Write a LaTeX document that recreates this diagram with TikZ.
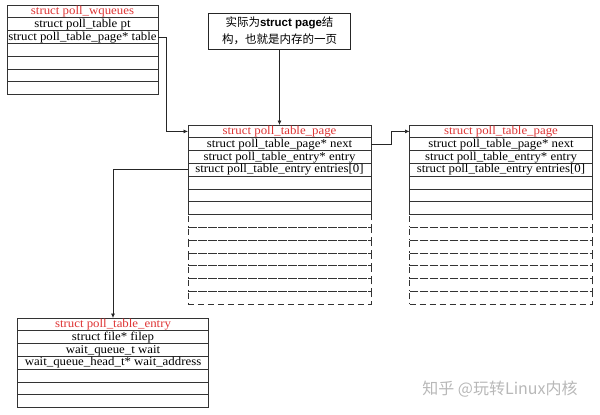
\documentclass[tikz,border=0pt]{standalone}
\usepackage{fontspec}
\setmainfont{Liberation Serif}
\newfontfamily\fieldfont[FakeStretch=1.07]{Liberation Serif}
\newfontfamily\cjkfont{Noto Sans CJK SC}
\newfontfamily\latinsans{Liberation Sans}
\usetikzlibrary{positioning,arrows.meta}

\definecolor{titlered}{RGB}{222,52,52}
\tikzset{
  field/.style={draw=black!80, line width=0.8pt, rectangle, inner sep=0pt, outer sep=0pt,
    minimum height=12.8pt, text height=8.4pt, text depth=2.4pt,
    font=\fieldfont\fontsize{12}{12}\selectfont},
  title/.style={field, text=titlered},
  spare/.style={field, dash pattern=on 6pt off 4pt},
  ptr/.style={-{Latex[length=4.5pt,width=4pt]}, line width=0.7pt, draw=black!85},
}

\begin{document}
\begin{tikzpicture}[x=1pt,y=-1pt]
\useasboundingbox (0,0) rectangle (600,415);

% poll_wqueues
\node[title, minimum width=151pt] (wq0) at (82.5,11.4) {struct poll\_wqueues};
\node[field, minimum width=151pt, below=0pt of wq0] (wq1) {struct poll\_table pt};
\node[field, minimum width=151pt, below=0pt of wq1] (wq2) {struct poll\_table\_page* table};
\foreach \i [remember=\i as \last (initially 2)] in {3,...,6}
  \node[field, minimum width=151pt, below=0pt of wq\last] (wq\i) {};

% note on the page
\node[draw=black!85, line width=0.8pt, minimum width=142pt, minimum height=36pt, align=center,
  font=\fontsize{11.5}{17}\selectfont] (note) at (279.5,31)
  {{\cjkfont 实际为}{\latinsans\bfseries struct page}{\cjkfont 结}\\{\cjkfont 构，也就是内存的一页}};

% first poll_table_page
\node[title, minimum width=183pt] (pa0) at (279.5,131.4) {struct poll\_table\_page};
\node[field, minimum width=183pt, below=0pt of pa0] (pa1) {struct poll\_table\_page* next};
\node[field, minimum width=183pt, below=0pt of pa1] (pa2) {struct poll\_table\_entry* entry};
\node[field, minimum width=183pt, below=0pt of pa2] (pa3) {struct poll\_table\_entry entries[0]};
\foreach \i [remember=\i as \last (initially 3)] in {4,...,6}
  \node[field, minimum width=183pt, below=0pt of pa\last] (pa\i) {};
\foreach \i [remember=\i as \last (initially 6)] in {7,...,13}
  \node[spare, minimum width=183pt, below=0pt of pa\last] (pa\i) {};

% second poll_table_page
\node[title, minimum width=183pt] (pb0) at (501,131.4) {struct poll\_table\_page};
\node[field, minimum width=183pt, below=0pt of pb0] (pb1) {struct poll\_table\_page* next};
\node[field, minimum width=183pt, below=0pt of pb1] (pb2) {struct poll\_table\_entry* entry};
\node[field, minimum width=183pt, below=0pt of pb2] (pb3) {struct poll\_table\_entry entries[0]};
\foreach \i [remember=\i as \last (initially 3)] in {4,...,6}
  \node[field, minimum width=183pt, below=0pt of pb\last] (pb\i) {};
\foreach \i [remember=\i as \last (initially 6)] in {7,...,13}
  \node[spare, minimum width=183pt, below=0pt of pb\last] (pb\i) {};

% poll_table_entry
\node[title, minimum width=191pt] (en0) at (113,324.4) {struct poll\_table\_entry};
\node[field, minimum width=191pt, below=0pt of en0] (en1) {struct file* filep};
\node[field, minimum width=191pt, below=0pt of en1] (en2) {wait\_queue\_t wait};
\node[field, minimum width=191pt, below=0pt of en2] (en3) {wait\_queue\_head\_t* wait\_address};
\foreach \i [remember=\i as \last (initially 3)] in {4,...,6}
  \node[field, minimum width=191pt, below=0pt of en\last] (en\i) {};

% pointers
\draw[ptr] (wq2.east) -- ++(8,0) |- (pa0.west);
\draw[ptr] (note.south) -- (pa0.north);
\draw[ptr] (pa1.east) -- ++(20,0) |- (pb0.west);
\draw[ptr] (pa3.west) -| (en0.north);

% watermark
\node[text=black!28, font=\cjkfont\fontsize{16}{16}\selectfont] (mark) at (500,389) {知乎 @玩转Linux内核};
\end{tikzpicture}
\end{document}
